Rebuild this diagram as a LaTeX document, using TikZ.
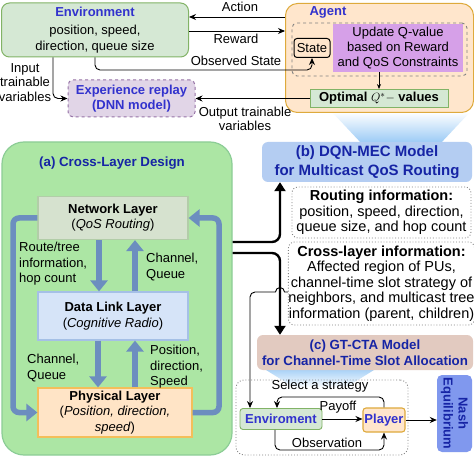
\documentclass[tikz,border=0pt]{standalone}
\usepackage{fontspec}
\setmainfont{Liberation Sans}
\usetikzlibrary{arrows.meta}
\definecolor{envfill}{HTML}{D5E8D4}
\definecolor{envline}{HTML}{82B366}
\definecolor{agfill}{HTML}{FFE6CC}
\definecolor{agline}{RGB}{222,170,60}
\definecolor{purp}{RGB}{214,160,232}
\definecolor{expfill}{HTML}{E1D5E7}
\definecolor{expline}{HTML}{9673A6}
\definecolor{dqnfill}{RGB}{180,205,242}
\definecolor{gtfill}{RGB}{226,202,192}
\definecolor{nashfill}{RGB}{128,152,238}
\definecolor{clfill}{RGB}{172,230,164}
\definecolor{clline}{RGB}{140,205,150}
\definecolor{netfill}{RGB}{214,226,207}
\definecolor{netline}{RGB}{178,205,168}
\definecolor{dlfill}{RGB}{214,228,248}
\definecolor{dlline}{RGB}{165,192,230}
\definecolor{phfill}{RGB}{255,228,198}
\definecolor{phline}{RGB}{244,190,90}
\definecolor{fat}{RGB}{108,142,191}
\definecolor{ttl}{RGB}{50,50,205}
\definecolor{dttl}{RGB}{22,36,165}
\definecolor{dotg}{RGB}{130,130,130}
\definecolor{funblue}{RGB}{150,200,245}
\begin{document}
\begin{tikzpicture}[x=1pt,y=-1pt,
  base/.style={font=\fontsize{13}{15.5}\selectfont, inner sep=0pt, align=center},
  big/.style={base, font=\fontsize{14.5}{15.5}\selectfont},
  boxx/.style={base, draw, rounded corners=#1},
  boxx/.default=6pt,
  thinarr/.style={draw=black, line width=0.9pt, -{Stealth[length=7pt,width=6pt]}},
  fatarr/.style={draw=fat, line width=5.5pt, -{Triangle[length=11pt,width=17pt]}},
  blkarr/.style={draw=black, line width=2.4pt, -{Triangle[length=9pt,width=11pt]}},
  lbl/.style={base},
]
\fill[white] (0,0) rectangle (474,457);
\useasboundingbox (0,0) rectangle (474,457);

% ---------- funnels ----------
\shade[top color=white, bottom color=funblue] (332,112) -- (470,112) -- (440,144) -- (362,144) -- cycle;
\shade[top color=funblue!80, bottom color=white] (266,370) -- (374,370) -- (345,388) -- (295,388) -- cycle;

% ---------- top part ----------
\node[boxx=8pt, fill=envfill, draw=envline, line width=1pt, minimum width=187pt, minimum height=54pt] (env) at (95,30)
  {{\bfseries\color{ttl}Environment}\\[3pt]position, speed,\\direction, queue size};

\node[boxx=12pt, fill=agfill, draw=agline, line width=1pt, minimum width=188pt, minimum height=109pt] (agent) at (379.5,58) {};
\node[base, font=\fontsize{13}{15}\selectfont\bfseries, text=ttl] (agentlbl) at (328,12) {Agent};
\node[boxx=5pt, draw=dotg, dashed, line width=0.9pt, minimum width=175pt, minimum height=53pt] (inner) at (379.5,49.5) {};
\node[base, fill=purp, minimum width=130pt, minimum height=48pt, font=\fontsize{13}{15}\selectfont] (purple) at (398,48)
  {Update Q-value\\based on Reward\\and QoS Constraints};
\node[boxx=3pt, draw=black, line width=1pt, minimum width=36pt, minimum height=19pt] (state) at (312,48) {State};
\node[base, fill=envfill, draw=envline, line width=0.9pt, minimum width=138pt, minimum height=18pt, font=\fontsize{13}{15}\selectfont\bfseries] (opt) at (379,98.5)
  {Optimal $Q^{*}-$ values};
\draw[line width=0.7pt, -{Stealth[length=5pt,width=4pt]}] (purple.south -| opt.north) -- (opt.north);

\node[boxx=5pt, fill=expfill, draw=expline, dashed, line width=1pt, minimum width=127pt, minimum height=37pt, font=\fontsize{13}{15.5}\selectfont\bfseries, text=ttl] (exp) at (131.5,98.5)
  {Experience replay\\(DNN model)};

% arrows top
\draw[thinarr] (agent.west |- 0,17) -- (env.east |- 0,17);
\draw[thinarr] (env.east |- 0,31) -- (agent.west |- 0,31);
\draw[thinarr, rounded corners=5pt] (env.south) -- (95,70) -| (state.south);
\draw[thinarr, rounded corners=5pt] (53,0 |- env.south) |- (exp.west);
\draw[thinarr] (opt.west) -- (opt.west -| exp.east);

\node[lbl] (lact) at (240,7) {Action};
\node[lbl] (lrew) at (236,38.5) {Reward};
\node[lbl] (lobs) at (236,61) {Observed State};
\node[lbl, font=\fontsize{13}{14.5}\selectfont] (lin) at (25,82.5) {Input\\trainable\\variables};
\node[lbl, font=\fontsize{13}{14}\selectfont] (lout) at (245,119) {Output trainable\\variables};

% ---------- cross layer ----------
\node[boxx=22pt, fill=clfill, draw=clline, line width=1.2pt, minimum width=230pt, minimum height=313pt] (cl) at (117,298.5) {};
\node[base, font=\fontsize{13.3}{15}\selectfont\bfseries, text=dttl] (cltitle) at (112,163) {(a) Cross-Layer Design};

\node[base, fill=netfill, draw=netline, line width=1.2pt, minimum width=150pt, minimum height=43pt, font=\fontsize{13}{15}\selectfont] (net) at (113,218)
  {\bfseries Network Layer\\(\textit{QoS Routing})};
\node[base, fill=dlfill, draw=dlline, line width=1.2pt, minimum width=150pt, minimum height=48pt, font=\fontsize{13}{16}\selectfont] (dl) at (113,316)
  {\bfseries Data Link Layer\\(\textit{Cognitive Radio})};
\node[base, fill=phfill, draw=phline, line width=1.2pt, minimum width=154pt, minimum height=49pt, font=\fontsize{13}{15.5}\selectfont] (ph) at (115,412.5)
  {\bfseries Physical Layer\\(\textit{Position, direction,}\\\textit{speed})};

\draw[fatarr] (net.south -| 99,0) -- (dl.north -| 99,0);
\draw[fatarr] (dl.north -| 135,0) -- (net.south -| 135,0);
\draw[fatarr] (dl.south -| 98,0) -- (ph.north -| 98,0);
\draw[fatarr] (ph.north -| 135,0) -- (dl.south -| 135,0);
\draw[fatarr, rounded corners=6pt] (net.west) -- (13,0 |- net.west) |- (ph.west);
\draw[fatarr, rounded corners=6pt] (ph.east) -- (219,0 |- ph.east) |- (net.east);

\node[lbl, anchor=west, align=left] (l1) at (19,264) {Route/tree\\information,\\hop count};
\node[lbl, anchor=west, align=left] (l2) at (146,267) {Channel,\\Queue};
\node[lbl, anchor=west, align=left] (l3) at (27,368) {Channel,\\Queue};
\node[lbl, anchor=west, align=left] (l4) at (150,367) {Position,\\direction,\\Speed};

% ---------- right column ----------
\node[base, fill=dqnfill, rounded corners=6pt, minimum width=210pt, minimum height=40pt, font=\fontsize{15}{18.5}\selectfont\bfseries, text=dttl] (dqn) at (367,162)
  {(b) DQN-MEC Model\\for Multicast QoS Routing};
\node[boxx=6pt, draw=dotg, dotted, line width=0.9pt, minimum width=179pt, minimum height=51pt, big] (rout) at (381.5,212.5)
  {\bfseries Routing information:\\position, speed, direction,\\queue size, and hop count};
\node[boxx=6pt, draw=dotg, dotted, line width=0.9pt, minimum width=179pt, minimum height=83pt, big] (cross) at (381.5,283.5)
  {\bfseries Cross-layer information:\\Affected region of PUs,\\channel-time slot strategy of\\neighbors, and multicast tree\\information (parent, children)};
\node[base, fill=gtfill, rounded corners=6pt, minimum width=216pt, minimum height=35pt, font=\fontsize{13.3}{16}\selectfont\bfseries, text=dttl] (gt) at (365,352.5)
  {(c) GT-CTA Model\\for Channel-Time Slot Allocation};

\draw[blkarr, rounded corners=8pt] (cl.east |- 0,242) -| (280,0 |- dqn.south);
\draw[blkarr, rounded corners=8pt] (cl.east |- 0,253) -| (280,0 |- gt.north);

% ---------- game ----------
\node[boxx=8pt, draw=dotg, dotted, line width=0.9pt, minimum width=172pt, minimum height=75pt] (game) at (322,417.5) {};
\node[base, fill=envfill, draw=envline, line width=0.9pt, rounded corners=3pt, minimum width=82pt, minimum height=21pt, font=\fontsize{13}{15}\selectfont\bfseries, text=ttl] (genv) at (281,419) {Enviroment};
\node[base, fill=agfill, draw=agline, line width=1.1pt, rounded corners=3pt, minimum width=42pt, minimum height=24pt, font=\fontsize{13}{15}\selectfont\bfseries, text=ttl] (player) at (384,420) {Player};
\node[base, fill=nashfill, rounded corners=5pt, minimum width=35pt, minimum height=77pt] (nash) at (454.5,413.5) {};
\node[base, rotate=-90, font=\fontsize{13}{15}\selectfont\bfseries, text=dttl] (nashlbl) at (nash.center) {Nash\\Equilibrium};

\draw[thinarr] (genv.east) -- (genv.east -| player.west);
\draw[thinarr, rounded corners=5pt] (player.north) |- (277,397) -- (277,0 |- genv.north);
\draw[thinarr, rounded corners=5pt] (275,0 |- genv.south) |- (384,450) -- (player.south);
\draw[thinarr] (player.east) -- (player.east -| nash.west);
\draw[thinarr] (cross.west |- 0,292) -- (284.5,292) arc[start angle=0, end angle=-180, radius=4.5]
  [rounded corners=5pt] -- (250,292) -- (250,0 |- genv.north);

\node[lbl] (lsel) at (320,386) {Select a strategy};
\node[lbl] (lpay) at (338,407) {Payoff};
\node[lbl] (lobsv) at (327,443) {Observation};
\end{tikzpicture}
\end{document}
